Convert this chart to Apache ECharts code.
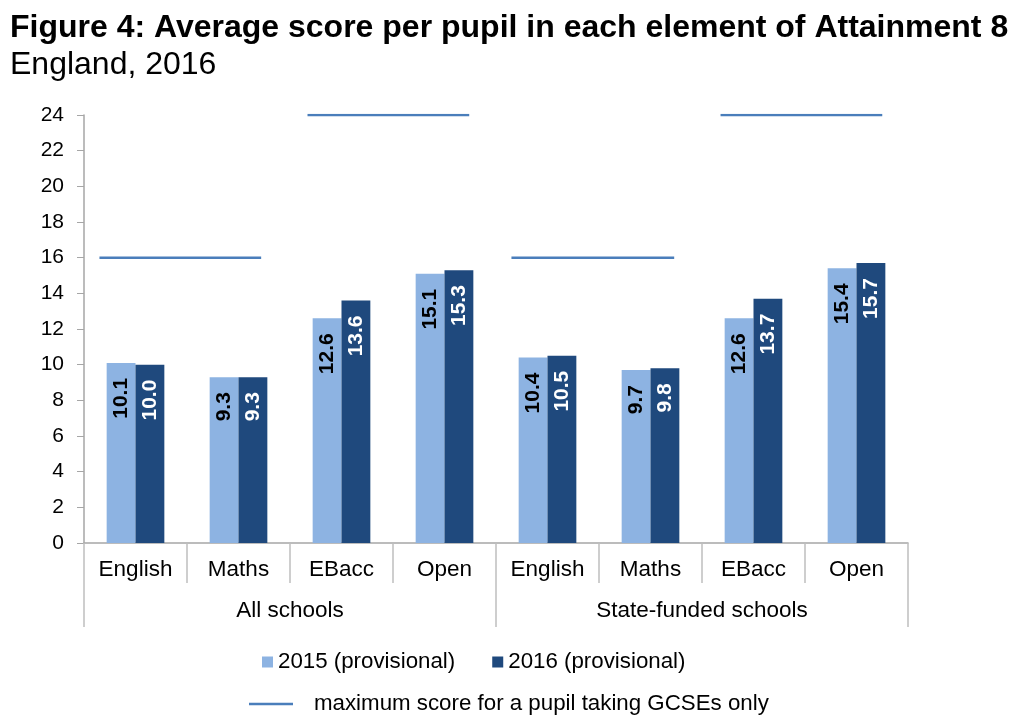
<!DOCTYPE html>
<html><head><meta charset="utf-8">
<script src="https://cdn.jsdelivr.net/npm/echarts@6/dist/echarts.min.js"></script>
<style>html,body{margin:0;padding:0;background:#fff}#c{width:1024px;height:721px}</style>
</head><body><div id="c"></div>
<script>
var categories = ['English','Maths','EBacc','Open','English','Maths','EBacc','Open'];
var groups = ['All schools','State-funded schools'];
var values2015 = [10.1, 9.3, 12.6, 15.1, 10.4, 9.7, 12.6, 15.4];
var values2016 = [10.0, 9.3, 13.6, 15.3, 10.5, 9.8, 13.7, 15.7];
// maximum score lines: [startPos, endPos, value] in category-slot units
var maxLines = [[0.15, 1.72, 16], [2.17, 3.74, 24], [4.15, 5.73, 16], [6.18, 7.75, 24]];
var yTicks = {min: 0, max: 24, interval: 2};

var FONT = "'Liberation Sans', Arial, sans-serif";
var LINE_NAME = 'maximum score for a pupil taking GCSEs only';
var chart = echarts.init(document.getElementById('c'), null, {renderer: 'canvas'});
var lineSeries = maxLines.map(function (l) {
  return {
    name: LINE_NAME,
    type: 'line', xAxisIndex: 2, yAxisIndex: 0,
    data: [[l[0], l[2]], [l[1], l[2]]],
    symbol: 'none', silent: true,
    lineStyle: {color: '#4a7ebb', width: 2.5},
    itemStyle: {color: '#4a7ebb'},
    z: 5
  };
});
var labelCommon = {
  show: true, position: 'insideTop', distance: 15, rotate: 90,
  align: 'right', verticalAlign: 'middle',
  fontFamily: FONT, fontWeight: 'bold', fontSize: 21,
  formatter: function (p) { return p.value.toFixed(1); }
};
chart.setOption({
  animation: false,
  textStyle: {fontFamily: FONT},
  title: [{
    text: 'Figure 4: Average score per pupil in each element of Attainment 8',
    left: 5, top: 7,
    textStyle: {fontFamily: FONT, fontWeight: 'bold', fontSize: 32, color: '#000'}
  }, {
    text: 'England, 2016', left: 5, top: 44,
    textStyle: {fontFamily: FONT, fontWeight: 'normal', fontSize: 32, color: '#000'}
  }],
  grid: {left: 84, right: 116, top: 115, bottom: 178, containLabel: false},
  legend: [{
    data: ['2015 (provisional)', '2016 (provisional)'],
    top: 646, left: 257, itemWidth: 11, itemHeight: 11, itemGap: 37,
    icon: 'rect',
    textStyle: {fontFamily: FONT, fontSize: 22.3, color: '#000', padding: [0, 0, 0, 0]}
  }, {
    data: [{name: LINE_NAME, icon: 'path://M0,0 L44,0 L44,2.5 L0,2.5 Z'}],
    top: 688, left: 244, itemWidth: 44, itemHeight: 3, itemGap: 10,
    textStyle: {fontFamily: FONT, fontSize: 22.3, color: '#000', padding: [0, 0, 0, 16]}
  }],
  xAxis: [{
    type: 'category', data: categories, position: 'bottom',
    axisLine: {lineStyle: {color: '#a6a6a6', width: 1.5}},
    axisTick: {show: true, interval: 0, length: 40, lineStyle: {color: '#bfbfbf', width: 1.5}},
    axisLabel: {interval: 0, margin: 15, fontSize: 22.5, color: '#000', fontFamily: FONT}
  }, {
    type: 'category', data: groups, position: 'bottom', offset: 0,
    axisLine: {show: false},
    axisTick: {show: true, interval: 0, length: 84, lineStyle: {color: '#bfbfbf', width: 1.5}},
    axisLabel: {interval: 0, margin: 56, fontSize: 22.5, color: '#000', fontFamily: FONT},
    splitLine: {show: false}
  }, {
    type: 'value', min: 0, max: 8, show: false, position: 'bottom'
  }],
  yAxis: {
    type: 'value', min: yTicks.min, max: yTicks.max, interval: yTicks.interval,
    axisLine: {show: true, lineStyle: {color: '#a6a6a6', width: 1.5}},
    axisTick: {show: true, length: 7, lineStyle: {color: '#a6a6a6'}},
    splitLine: {show: false},
    axisLabel: {margin: 20, fontSize: 21, color: '#000', fontFamily: FONT}
  },
  series: [{
    name: '2015 (provisional)', type: 'bar', data: values2015,
    barGap: '0%', barCategoryGap: '44%',
    itemStyle: {color: '#8db3e2'},
    label: Object.assign({color: '#000'}, labelCommon)
  }, {
    name: '2016 (provisional)', type: 'bar', data: values2016,
    itemStyle: {color: '#1f497d'},
    label: Object.assign({color: '#fff'}, labelCommon)
  }].concat(lineSeries)
});
</script></body></html>
